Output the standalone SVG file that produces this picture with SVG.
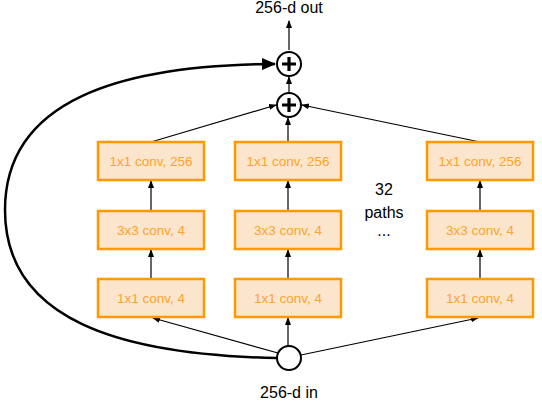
<svg xmlns="http://www.w3.org/2000/svg" width="542" height="405" viewBox="0 0 542 405">
<style>
.box{fill:#fce5cd;stroke:#ff9900;stroke-width:2.5}
.bt{font-family:"Liberation Sans",Arial,sans-serif;font-size:13.5px;fill:#fba42c;text-anchor:middle}
.lbl{font-family:"Liberation Sans",Arial,sans-serif;font-size:16px;fill:#000;text-anchor:middle}
.ln{fill:none;stroke:#000;stroke-width:1.2}
.circ{fill:#fff;stroke:#000;stroke-width:2}
.plus{stroke:#000;stroke-width:3.2;fill:none}
</style>
<defs>
<marker id="ah" markerWidth="8" markerHeight="8" refX="7" refY="4" orient="auto" markerUnits="userSpaceOnUse">
<path d="M0,1 L8,4 L0,7 Z" fill="#000"/>
</marker>
<marker id="ahb" markerWidth="14" markerHeight="12" refX="13" refY="6" orient="auto" markerUnits="userSpaceOnUse">
<path d="M0,0 L14,6 L0,12 Z" fill="#000"/>
</marker>
</defs>
<g id="connectors">
<path class="ln" d="M289,50 L289,21" marker-end="url(#ah)"/>
<path class="ln" d="M289,92 L289,77" marker-end="url(#ah)"/>
<path class="ln" d="M151,142 L276,105" marker-end="url(#ah)"/>
<path class="ln" d="M288,142 L288,118" marker-end="url(#ah)"/>
<path class="ln" d="M480,142 L302,105" marker-end="url(#ah)"/>
<path class="ln" d="M151,210 L151,181" marker-end="url(#ah)"/>
<path class="ln" d="M288,210 L288,181" marker-end="url(#ah)"/>
<path class="ln" d="M480,210 L480,181" marker-end="url(#ah)"/>
<path class="ln" d="M151,279 L151,250" marker-end="url(#ah)"/>
<path class="ln" d="M288,279 L288,250" marker-end="url(#ah)"/>
<path class="ln" d="M480,279 L480,250" marker-end="url(#ah)"/>
<path class="ln" d="M278,353 L153,318" marker-end="url(#ah)"/>
<path class="ln" d="M288,346 L288,318" marker-end="url(#ah)"/>
<path class="ln" d="M301,355 L478,318" marker-end="url(#ah)"/>
<path d="M277,358 C120,355 5,320 5,210 C5,100 120,65 275,64" fill="none" stroke="#000" stroke-width="2.5" marker-end="url(#ahb)"/>
</g>
<g id="out-label"><text class="lbl" x="289" y="13">256-d out</text></g>
<g id="sum-top">
<circle class="circ" cx="289" cy="64" r="12"/>
<path class="plus" d="M282,64 H296 M289,57 V71"/>
</g>
<g id="sum-mid">
<circle class="circ" cx="289" cy="105" r="12"/>
<path class="plus" d="M282,105 H296 M289,98 V112"/>
</g>
<g id="c1-top"><rect class="box" x="98" y="142" width="106" height="38"/><text class="bt" x="151" y="166">1x1 conv, 256</text></g>
<g id="c1-mid"><rect class="box" x="98" y="211" width="106" height="38"/><text class="bt" x="151" y="235">3x3 conv, 4</text></g>
<g id="c1-bot"><rect class="box" x="98" y="279" width="106" height="38"/><text class="bt" x="151" y="303">1x1 conv, 4</text></g>
<g id="c2-top"><rect class="box" x="235" y="142" width="106" height="38"/><text class="bt" x="288" y="166">1x1 conv, 256</text></g>
<g id="c2-mid"><rect class="box" x="235" y="211" width="106" height="38"/><text class="bt" x="288" y="235">3x3 conv, 4</text></g>
<g id="c2-bot"><rect class="box" x="235" y="279" width="106" height="38"/><text class="bt" x="288" y="303">1x1 conv, 4</text></g>
<g id="c3-top"><rect class="box" x="427" y="142" width="106" height="38"/><text class="bt" x="480" y="166">1x1 conv, 256</text></g>
<g id="c3-mid"><rect class="box" x="427" y="211" width="106" height="38"/><text class="bt" x="480" y="235">3x3 conv, 4</text></g>
<g id="c3-bot"><rect class="box" x="427" y="279" width="106" height="38"/><text class="bt" x="480" y="303">1x1 conv, 4</text></g>
<g id="paths-label">
<text class="lbl" x="384" y="195">32</text>
<text class="lbl" x="384" y="218">paths</text>
<text class="lbl" x="384" y="236">...</text>
</g>
<g id="input">
<circle class="circ" cx="289" cy="358" r="12"/>
</g>
<g id="in-label"><text class="lbl" x="289" y="398">256-d in</text></g>
</svg>
